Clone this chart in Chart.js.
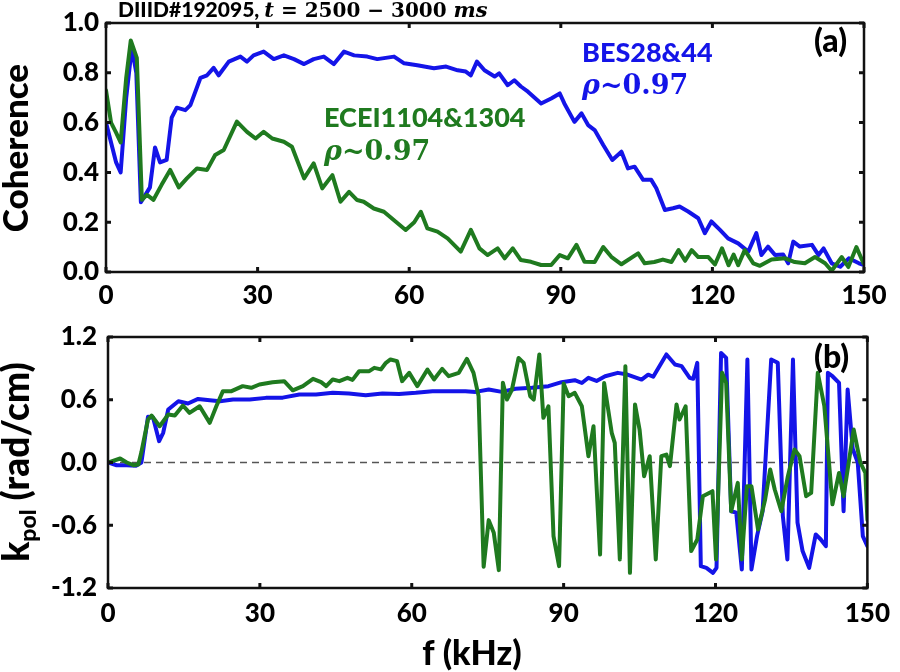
<!DOCTYPE html>
<html>
<head>
<meta charset="utf-8">
<script src="https://cdn.jsdelivr.net/npm/chart.js@4.4.1/dist/chart.umd.min.js"></script>
<style>
  html,body{margin:0;padding:0;background:#fff;width:900px;height:672px;overflow:hidden;}
  .box{position:absolute;left:0;width:900px;}
  canvas{display:block;}
</style>
</head>
<body>
<div class="box" style="top:0;height:305px;"><canvas id="top" width="900" height="305"></canvas></div>
<div class="box" style="top:305px;height:367px;"><canvas id="bot" width="900" height="367"></canvas></div>
<script>
// ---------------- data ----------------
const xTickValues = [0, 30, 60, 90, 120, 150];
const cohTickValues = [0.0, 0.2, 0.4, 0.6, 0.8, 1.0];
const kTickValues = [-1.2, -0.6, 0.0, 0.6, 1.2];

// (a) coherence, BES28&44
const cohFreqBES = [0,1,2,2.9,4,5.1,6,6.9,8.7,9.7,10.7,12,13,14,15.7,16.7,18.7,20,21.3,22.3,24.3,26.6,27.9,29.2,31.2,33.2,35.2,37.2,39.2,41.1,43.1,45.1,47.1,49.1,51.7,53.7,57,59,61.6,64.9,67.3,69.6,71.2,72.2,73.4,74.9,76.9,77.8,79.5,80.8,82.1,83.5,86.1,88.1,89.8,90.7,92.7,94.1,95.4,96.7,98.4,100.2,102,103.3,104.6,106.3,107.9,108.9,110.6,112.2,113.5,115.2,117.2,118.5,119.8,121.5,123.1,125.1,127.1,128.7,129.7,131,132.4,134,135,136,137.3,139.7,141,142,143.6,145.3,147,149,150];
const cohBES = [0.60,0.52,0.44,0.40,0.70,0.90,0.80,0.28,0.34,0.50,0.44,0.45,0.62,0.66,0.65,0.67,0.78,0.79,0.82,0.79,0.845,0.865,0.845,0.87,0.885,0.855,0.87,0.855,0.835,0.855,0.865,0.835,0.885,0.87,0.865,0.855,0.865,0.838,0.83,0.818,0.825,0.81,0.805,0.79,0.845,0.81,0.785,0.798,0.75,0.77,0.745,0.724,0.677,0.697,0.717,0.677,0.603,0.637,0.59,0.57,0.51,0.45,0.483,0.416,0.423,0.37,0.37,0.336,0.249,0.256,0.263,0.243,0.216,0.156,0.203,0.169,0.135,0.115,0.082,0.156,0.068,0.102,0.068,0.07,0.035,0.122,0.102,0.109,0.068,0.095,0.035,0.021,0.055,0.035,0.028];

// (a) coherence, ECEI1104&1304
const cohFreqECEI = [0,1,2,2.9,4,4.9,6.1,7.1,8.1,9.4,11,12.7,14.4,16,18,20,21.6,23.3,25.9,27.9,29.6,31.2,32.9,35.2,36.8,39.2,41.1,42.8,44.8,46.4,48.1,49.7,51,53,55,57,59.3,61,62.3,63.6,65.6,67.6,70.2,72.2,73.9,75.5,77.5,78.9,80.5,82.1,84.1,86.1,88.1,89.8,91.4,93.1,94.7,96.7,98.4,100,102,105.3,106.6,108.5,110.2,111.9,113.3,114.6,115.9,117.2,119.2,120.5,121.9,123.2,124.2,125.1,126.4,128.1,129.4,131.7,134.4,136.3,138.3,140.3,142.3,143.6,145.6,146.9,148.5,149.9];
const cohECEI = [0.73,0.60,0.56,0.52,0.78,0.93,0.86,0.29,0.31,0.29,0.35,0.41,0.34,0.376,0.416,0.41,0.47,0.49,0.604,0.563,0.536,0.563,0.536,0.523,0.503,0.376,0.436,0.336,0.389,0.282,0.322,0.289,0.282,0.255,0.242,0.208,0.169,0.20,0.242,0.175,0.162,0.135,0.082,0.169,0.095,0.068,0.095,0.055,0.095,0.048,0.041,0.028,0.028,0.068,0.055,0.109,0.041,0.04,0.10,0.061,0.031,0.075,0.035,0.04,0.05,0.04,0.088,0.045,0.088,0.06,0.06,0.03,0.095,0.027,0.07,0.027,0.088,0.035,0.025,0.05,0.055,0.04,0.035,0.06,0.035,0.005,0.06,0.02,0.10,0.035];

// (b) k_pol, BES
const kFreqBES = [0,1.7,3.7,5.6,6.6,7.9,8.9,10.1,10.9,11.9,13.9,15.8,17.8,20.1,22.1,24.7,28,31.2,34.5,37.8,41.1,44.4,47.6,50.9,54.2,57.5,60.8,64.1,67.3,70.6,72.6,75.2,77.8,80.5,83.7,87,89.6,92.2,93.6,94.9,96.5,98.2,100.7,102.6,105.4,106.7,107.7,110.3,112,113.3,114.9,115.6,116.4,117.1,118.2,119.5,120.2,121.1,122.1,123.1,124.1,125.2,126.3,127.1,128.2,129.3,131,132.3,133.3,134.2,135.3,136.2,137.2,138.5,139.8,140.8,141.8,142.2,143.1,144.4,145.3,146.1,147.1,148.1,149.1,150];
const kBES = [0.0,-0.026,-0.026,-0.03,0.0,0.437,0.43,0.204,0.284,0.507,0.586,0.564,0.608,0.596,0.586,0.602,0.602,0.618,0.62,0.65,0.65,0.666,0.66,0.644,0.66,0.655,0.666,0.682,0.682,0.682,0.675,0.698,0.675,0.705,0.714,0.73,0.768,0.787,0.76,0.81,0.78,0.825,0.857,0.841,0.793,0.84,0.82,1.033,0.937,0.921,0.809,0.80,0.953,-0.991,-1.007,-1.055,-1.007,1.048,1.0,-0.466,-0.48,-1.023,0.985,-1.023,-0.704,-0.466,0.985,0.953,-0.51,-0.927,0.985,-0.575,-0.847,-1.007,-0.688,-0.736,-0.8,0.857,0.825,0.762,-0.466,0.698,0.132,0.0,-0.704,-0.8];

// (b) k_pol, ECEI
const kFreqECEI = [0,2.4,3.7,5,6,6.6,7.9,8.6,10.2,11.9,13.2,14.8,16.1,18.1,20.1,21.4,22.7,24.4,26.6,28.3,29.9,32.5,34.8,36.5,38.5,40.5,42.1,43.1,44.4,45.7,47.3,48.3,49.6,51.6,52.6,53.9,54.9,55.8,57.1,58.1,59.5,61.1,63.1,64.4,66,67.3,69.3,70.9,72.2,73.2,74.2,75.2,76.2,77.2,78,78.8,79.8,81.1,82.1,83.4,84.1,85.2,86,87,88,89.1,90,91,92.2,93.6,94.9,95.9,97.2,98,99.5,100.1,101.1,102.2,103.1,104.1,105,105.9,107,108.2,109.3,110.3,111,112.3,112.9,114.1,115.2,116.4,117.5,119.4,120.1,121.3,122.1,123.1,124.4,125.2,126.2,127.1,128.4,129.8,130.8,131.7,133,134.3,135.6,136.6,137.9,138.9,140.2,141.5,143.1,144.4,145.3,147.3,148.6,149.6,150];
const kECEI = [0.0,0.038,0.0,-0.026,-0.02,0.1,0.411,0.449,0.347,0.459,0.449,0.545,0.475,0.538,0.379,0.538,0.682,0.682,0.73,0.714,0.746,0.768,0.778,0.69,0.73,0.80,0.768,0.73,0.794,0.778,0.81,0.79,0.873,0.873,0.905,0.89,0.953,0.985,0.969,0.778,0.857,0.73,0.889,0.794,0.895,0.825,0.857,0.991,0.857,0.634,-0.997,-0.551,-0.672,-1.029,0.762,0.602,0.698,1.0,0.953,0.634,0.602,1.033,0.427,0.538,-0.704,-0.991,0.755,0.634,0.666,0.538,0.06,0.347,-0.88,0.76,0.284,0.188,-0.927,0.921,-1.055,0.555,0.315,-0.131,0.06,-0.927,0.06,0.076,-0.035,0.555,0.411,0.538,-0.847,-0.736,-0.322,-0.274,-0.927,0.857,0.762,-0.466,-0.195,-0.927,-0.227,-0.227,-0.64,-0.354,-0.067,-0.258,-0.466,-0.131,0.124,0.06,-0.322,-0.29,0.857,0.538,-0.4,-0.1,-0.322,0.315,0.0,-0.1,-0.55];

const zeroLineFreq = [0, 150];
const zeroLineVal = [0, 0];

// ---------------- styles ----------------
const BLUE = '#1414e8';
const GREEN = '#1f7a1f';
const SANS = 'Lato, "DejaVu Sans", sans-serif';
const SERIF = '"DejaVu Serif", "Liberation Serif", serif';
const W = '900';

const zip = (xs, ys) => xs.map((x, i) => ({x, y: ys[i]}));

// frame + inward ticks on all four sides
const framePlugin = {
  id: 'frame',
  afterDatasetsDraw(chart) {
    const {ctx, chartArea: a, scales: {x, y}} = chart;
    ctx.save();
    ctx.strokeStyle = '#111';
    ctx.lineWidth = 2.5;
    ctx.strokeRect(a.left, a.top, a.right - a.left, a.bottom - a.top);
    ctx.lineWidth = 3;
    const L = 5;
    ctx.beginPath();
    x.ticks.forEach(t => {
      const px = x.getPixelForValue(t.value);
      ctx.moveTo(px, a.bottom); ctx.lineTo(px, a.bottom - L);
      ctx.moveTo(px, a.top); ctx.lineTo(px, a.top + L);
    });
    y.ticks.forEach(t => {
      const py = y.getPixelForValue(t.value);
      ctx.moveTo(a.left, py); ctx.lineTo(a.left + L, py);
      ctx.moveTo(a.right, py); ctx.lineTo(a.right - L, py);
    });
    ctx.stroke();
    ctx.restore();
  }
};

// free text (annotations and titles) drawn at pixel positions
const textPlugin = {
  id: 'texts',
  afterDraw(chart, args, opts) {
    const ctx = chart.ctx;
    (opts.items || []).forEach(it => {
      ctx.save();
      ctx.textBaseline = 'alphabetic';
      ctx.fillStyle = it.color || '#000';
      if (it.rotate) {
        ctx.translate(it.x, it.y);
        ctx.rotate(-Math.PI / 2);
        let total = 0;
        it.parts.forEach(p => { ctx.font = p.font; total += ctx.measureText(p.text).width; });
        let cx = -total / 2;
        it.parts.forEach(p => {
          ctx.font = p.font;
          ctx.fillText(p.text, cx, p.dy || 0);
          cx += ctx.measureText(p.text).width;
        });
      } else {
        let cx = it.x;
        if (it.center) {
          let total = 0;
          it.parts.forEach(p => { ctx.font = p.font; total += ctx.measureText(p.text).width; });
          cx = it.x - total / 2;
        }
        it.parts.forEach(p => {
          ctx.font = p.font;
          ctx.fillText(p.text, cx, it.y + (p.dy || 0));
          cx += ctx.measureText(p.text).width;
        });
      }
      ctx.restore();
    });
  }
};

function lineDS(label, data, color, order, width) {
  return {
    label, data, borderColor: color, borderWidth: width, pointRadius: 0,
    tension: 0, fill: false, order, borderJoinStyle: 'round', borderCapStyle: 'round'
  };
}

function makeOptions(cfg) {
  return {
    responsive: false,
    animation: false,
    devicePixelRatio: 1,
    layout: {padding: {top: cfg.padTop, right: cfg.padRight, left: 0, bottom: 0}},
    plugins: {
      legend: {display: false},
      tooltip: {enabled: false},
      texts: {items: cfg.texts}
    },
    scales: {
      x: {
        type: 'linear', min: 0, max: 150,
        afterBuildTicks: s => { s.ticks = xTickValues.map(v => ({value: v})); },
        afterFit: s => { s.height = cfg.xHeight; },
        grid: {display: false, drawTicks: false},
        border: {display: false},
        ticks: {
          color: '#000', padding: cfg.xPad, maxRotation: 0, autoSkip: false,
          font: {family: SANS, weight: W, size: 26},
          callback: v => String(v)
        }
      },
      y: {
        type: 'linear', min: cfg.yMin, max: cfg.yMax,
        afterBuildTicks: s => { s.ticks = cfg.yTicks.map(v => ({value: v})); },
        afterFit: s => { s.width = cfg.yWidth; },
        grid: {display: false, drawTicks: false},
        border: {display: false},
        ticks: {
          color: '#000', padding: cfg.yPad, autoSkip: false,
          font: {family: SANS, weight: W, size: 26},
          callback: v => v.toFixed(1)
        }
      }
    }
  };
}

// ---------------- (a) coherence ----------------
new Chart(document.getElementById('top'), {
  type: 'line',
  data: {
    datasets: [
      lineDS('ECEI1104&1304', zip(cohFreqECEI, cohECEI), GREEN, 0, 4),
      lineDS('BES28&44', zip(cohFreqBES, cohBES), BLUE, 1, 4)
    ]
  },
  options: makeOptions({
    padTop: 23, padRight: 36, xHeight: 33, yWidth: 106, xPad: 8, yPad: 7,
    yMin: 0, yMax: 1, yTicks: cohTickValues,
    texts: [
      {x: 118, y: 17, parts: [
        {text: 'DIIID#192095, ', font: `${W} 21px ${SANS}`},
        {text: 't', font: `italic bold 21px ${SERIF}`},
        {text: ' = 2500 − 3000 ', font: `bold 20px ${SERIF}`},
        {text: 'ms', font: `italic bold 21px ${SERIF}`}
      ]},
      {x: 28, y: 148, rotate: true, parts: [{text: 'Coherence', font: `${W} 35px ${SANS}`}]},
      {x: 582, y: 62, color: BLUE, parts: [{text: 'BES28&44', font: `${W} 27px ${SANS}`}]},
      {x: 582, y: 94, color: BLUE, parts: [
        {text: 'ρ', font: `italic bold 27px ${SERIF}`},
        {text: '~0.97', font: `bold 27px ${SERIF}`}
      ]},
      {x: 324, y: 127, color: GREEN, parts: [{text: 'ECEI1104&1304', font: `${W} 27px ${SANS}`}]},
      {x: 324, y: 160, color: GREEN, parts: [
        {text: 'ρ', font: `italic bold 27px ${SERIF}`},
        {text: '~0.97', font: `bold 27px ${SERIF}`}
      ]},
      {x: 814, y: 52, parts: [{text: '(a)', font: `${W} 32px ${SANS}`}]}
    ]
  }),
  plugins: [framePlugin, textPlugin]
});

// ---------------- (b) k_pol ----------------
new Chart(document.getElementById('bot'), {
  type: 'line',
  data: {
    datasets: [
      lineDS('ECEI1104&1304', zip(kFreqECEI, kECEI), GREEN, 0, 4),
      lineDS('BES28&44', zip(kFreqBES, kBES), BLUE, 1, 4),
      Object.assign(lineDS('zero', zip(zeroLineFreq, zeroLineVal), '#555', 2, 1.5), {borderDash: [7, 5], borderCapStyle: 'butt'})
    ]
  },
  options: makeOptions({
    padTop: 32, padRight: 30, xHeight: 84, yWidth: 108, xPad: 10, yPad: 11,
    yMin: -1.2, yMax: 1.2, yTicks: kTickValues,
    texts: [
      {x: 29, y: 157, rotate: true, parts: [
        {text: 'k', font: `${W} 37px ${SANS}`},
        {text: 'pol', font: `${W} 23px ${SANS}`, dy: 7},
        {text: ' (rad/cm)', font: `${W} 37px ${SANS}`}
      ]},
      {x: 472, y: 360, center: true, parts: [{text: 'f (kHz)', font: `${W} 34px ${SANS}`}]},
      {x: 814, y: 63, parts: [{text: '(b)', font: `${W} 32px ${SANS}`}]}
    ]
  }),
  plugins: [framePlugin, textPlugin]
});
</script>
</body>
</html>
